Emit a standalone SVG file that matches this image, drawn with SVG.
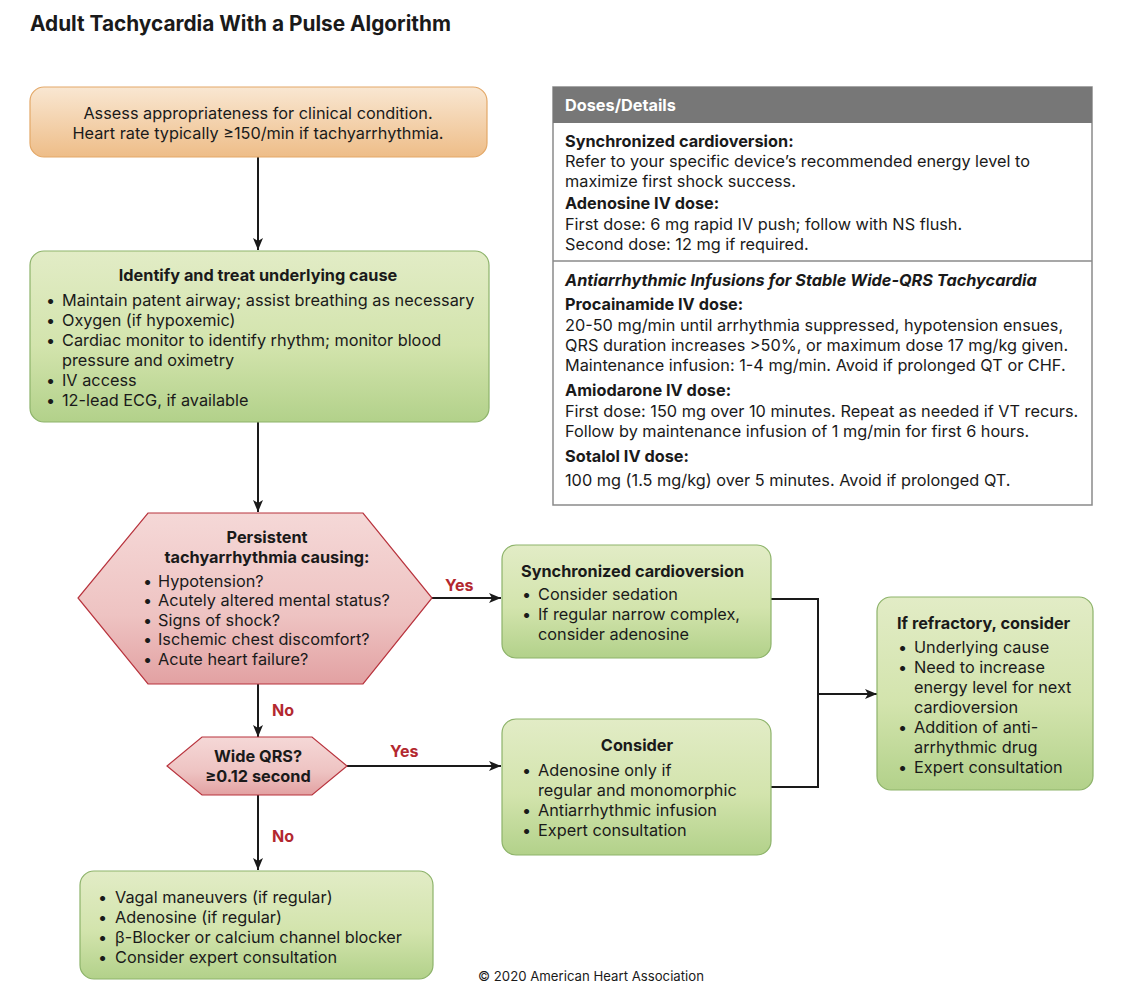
<svg xmlns="http://www.w3.org/2000/svg" width="1134" height="1008" viewBox="0 0 1134 1008">
<defs>
<linearGradient id="gOrange" x1="0" y1="0" x2="0" y2="1"><stop offset="0" stop-color="#f9e7d2"/><stop offset="1" stop-color="#eebd88"/></linearGradient>
<linearGradient id="gGreen" x1="0" y1="0" x2="0" y2="1"><stop offset="0" stop-color="#e2ecc6"/><stop offset="0.55" stop-color="#d3e4ad"/><stop offset="1" stop-color="#b2d18a"/></linearGradient>
<linearGradient id="gPink" x1="0" y1="0" x2="0" y2="1"><stop offset="0" stop-color="#f5d8d7"/><stop offset="0.6" stop-color="#eec3c2"/><stop offset="1" stop-color="#e2a1a2"/></linearGradient>
<marker id="arr" viewBox="0 0 12 10" refX="12" refY="5" markerWidth="12" markerHeight="10" markerUnits="userSpaceOnUse" orient="auto"><path d="M0,0 L12,5 L0,10 L3,5 Z" fill="#1a1a1a"/></marker>
</defs>
<style>
text{font-family:Inter,"Liberation Sans",Arial,sans-serif;fill:#1a1a1a;font-size:16.3px}
.b{font-weight:bold}
.c{text-anchor:middle}
.lab{font-weight:bold;fill:#b3282f;font-size:16px}
.orange{fill:url(#gOrange);stroke:#e3a868;stroke-width:1.2}
.green{fill:url(#gGreen);stroke:#8db36a;stroke-width:1.2}
.pink{fill:url(#gPink);stroke:#b8333d;stroke-width:1.2}
.con{fill:none;stroke:#1a1a1a;stroke-width:2}
</style>
<rect width="1134" height="1008" fill="#ffffff"/>
<text x="30" y="31" class="b" style="font-size:20.8px">Adult Tachycardia With a Pulse Algorithm</text>

<g id="connectors">
<line class="con" x1="258" y1="157" x2="258" y2="250" marker-end="url(#arr)"/>
<line class="con" x1="258" y1="422" x2="258" y2="512" marker-end="url(#arr)"/>
<line class="con" x1="432" y1="598" x2="501" y2="598" marker-end="url(#arr)"/>
<line class="con" x1="258" y1="684" x2="258" y2="737" marker-end="url(#arr)"/>
<line class="con" x1="347" y1="766" x2="501" y2="766" marker-end="url(#arr)"/>
<line class="con" x1="258" y1="795" x2="258" y2="870" marker-end="url(#arr)"/>
<polyline class="con" points="771,599 818,599 818,787 771,787"/>
<line class="con" x1="818" y1="694" x2="877" y2="694" marker-end="url(#arr)"/>
<text x="445" y="591" class="lab">Yes</text>
<text x="390" y="757" class="lab">Yes</text>
<text x="272" y="716" class="lab">No</text>
<text x="272" y="842" class="lab">No</text>
</g>

<g id="assess">
<rect class="orange" x="30" y="87" width="457" height="70" rx="14"/>
<text x="258" y="119" class="c">Assess appropriateness for clinical condition.</text>
<text x="258" y="139" class="c">Heart rate typically ≥150/min if tachyarrhythmia.</text>
</g>

<g id="identify">
<rect class="green" x="30" y="251" width="459" height="171" rx="14"/>
<text x="258" y="281" class="c b">Identify and treat underlying cause</text>
<text x="46" y="306">•</text><text x="62" y="306">Maintain patent airway; assist breathing as necessary</text>
<text x="46" y="326">•</text><text x="62" y="326">Oxygen (if hypoxemic)</text>
<text x="46" y="346">•</text><text x="62" y="346">Cardiac monitor to identify rhythm; monitor blood</text>
<text x="62" y="366">pressure and oximetry</text>
<text x="46" y="386">•</text><text x="62" y="386">IV access</text>
<text x="46" y="406">•</text><text x="62" y="406">12-lead ECG, if available</text>
</g>

<g id="persistent">
<polygon class="pink" points="148,513 363,513 432,598 363,684 148,684 78,598"/>
<text x="267" y="543" class="c b">Persistent</text>
<text x="267" y="563" class="c b">tachyarrhythmia causing:</text>
<text x="143" y="587">•</text><text x="158" y="587">Hypotension?</text>
<text x="143" y="606">•</text><text x="158" y="606">Acutely altered mental status?</text>
<text x="143" y="626">•</text><text x="158" y="626">Signs of shock?</text>
<text x="143" y="645">•</text><text x="158" y="645">Ischemic chest discomfort?</text>
<text x="143" y="665">•</text><text x="158" y="665">Acute heart failure?</text>
</g>

<g id="wideqrs">
<polygon class="pink" points="202,737 312,737 347,766 312,795 202,795 167,766"/>
<text x="258" y="762" class="c b">Wide QRS?</text>
<text x="258" y="782" class="c b">≥0.12 second</text>
</g>

<g id="sync">
<rect class="green" x="502" y="545" width="269" height="113" rx="14"/>
<text x="521" y="577" class="b">Synchronized cardioversion</text>
<text x="522" y="600">•</text><text x="538" y="600">Consider sedation</text>
<text x="522" y="620">•</text><text x="538" y="620">If regular narrow complex,</text>
<text x="538" y="640">consider adenosine</text>
</g>

<g id="consider">
<rect class="green" x="502" y="719" width="269" height="136" rx="14"/>
<text x="637" y="751" class="c b">Consider</text>
<text x="522" y="776">•</text><text x="538" y="776">Adenosine only if</text>
<text x="538" y="796">regular and monomorphic</text>
<text x="522" y="816">•</text><text x="538" y="816">Antiarrhythmic infusion</text>
<text x="522" y="836">•</text><text x="538" y="836">Expert consultation</text>
</g>

<g id="refractory">
<rect class="green" x="877" y="597" width="216" height="193" rx="14"/>
<text x="897" y="629" class="b">If refractory, consider</text>
<text x="898" y="653">•</text><text x="914" y="653">Underlying cause</text>
<text x="898" y="673">•</text><text x="914" y="673">Need to increase</text>
<text x="914" y="693">energy level for next</text>
<text x="914" y="713">cardioversion</text>
<text x="898" y="733">•</text><text x="914" y="733">Addition of anti-</text>
<text x="914" y="753">arrhythmic drug</text>
<text x="898" y="773">•</text><text x="914" y="773">Expert consultation</text>
</g>

<g id="narrow">
<rect class="green" x="80" y="871" width="353" height="108" rx="14"/>
<text x="98" y="903">•</text><text x="115" y="903">Vagal maneuvers (if regular)</text>
<text x="98" y="923">•</text><text x="115" y="923">Adenosine (if regular)</text>
<text x="98" y="943">•</text><text x="115" y="943">β-Blocker or calcium channel blocker</text>
<text x="98" y="963">•</text><text x="115" y="963">Consider expert consultation</text>
</g>

<g id="doses">
<rect x="553" y="87" width="539" height="418" fill="#ffffff" stroke="#8a8a8a" stroke-width="1.5"/>
<rect x="553" y="87" width="539" height="36" fill="#777777"/>
<line x1="553" y1="261" x2="1092" y2="261" stroke="#8a8a8a" stroke-width="1.5"/>
<text x="565" y="111" class="b" style="fill:#ffffff">Doses/Details</text>
<text x="565" y="147" class="b">Synchronized cardioversion:</text>
<text x="565" y="167">Refer to your specific device’s recommended energy level to</text>
<text x="565" y="187">maximize first shock success.</text>
<text x="565" y="209" class="b">Adenosine IV dose:</text>
<text x="565" y="230">First dose: 6 mg rapid IV push; follow with NS flush.</text>
<text x="565" y="250">Second dose: 12 mg if required.</text>
<text x="565" y="286" class="b" font-style="italic">Antiarrhythmic Infusions for Stable Wide-QRS Tachycardia</text>
<text x="565" y="310" class="b">Procainamide IV dose:</text>
<text x="565" y="331">20-50 mg/min until arrhythmia suppressed, hypotension ensues,</text>
<text x="565" y="351">QRS duration increases &gt;50%, or maximum dose 17 mg/kg given.</text>
<text x="565" y="371">Maintenance infusion: 1-4 mg/min. Avoid if prolonged QT or CHF.</text>
<text x="565" y="396" class="b">Amiodarone IV dose:</text>
<text x="565" y="417">First dose: 150 mg over 10 minutes. Repeat as needed if VT recurs.</text>
<text x="565" y="437">Follow by maintenance infusion of 1 mg/min for first 6 hours.</text>
<text x="565" y="462" class="b">Sotalol IV dose:</text>
<text x="565" y="486">100 mg (1.5 mg/kg) over 5 minutes. Avoid if prolonged QT.</text>
</g>

<text x="478" y="981" style="font-size:13.2px">© 2020 American Heart Association</text>
</svg>
